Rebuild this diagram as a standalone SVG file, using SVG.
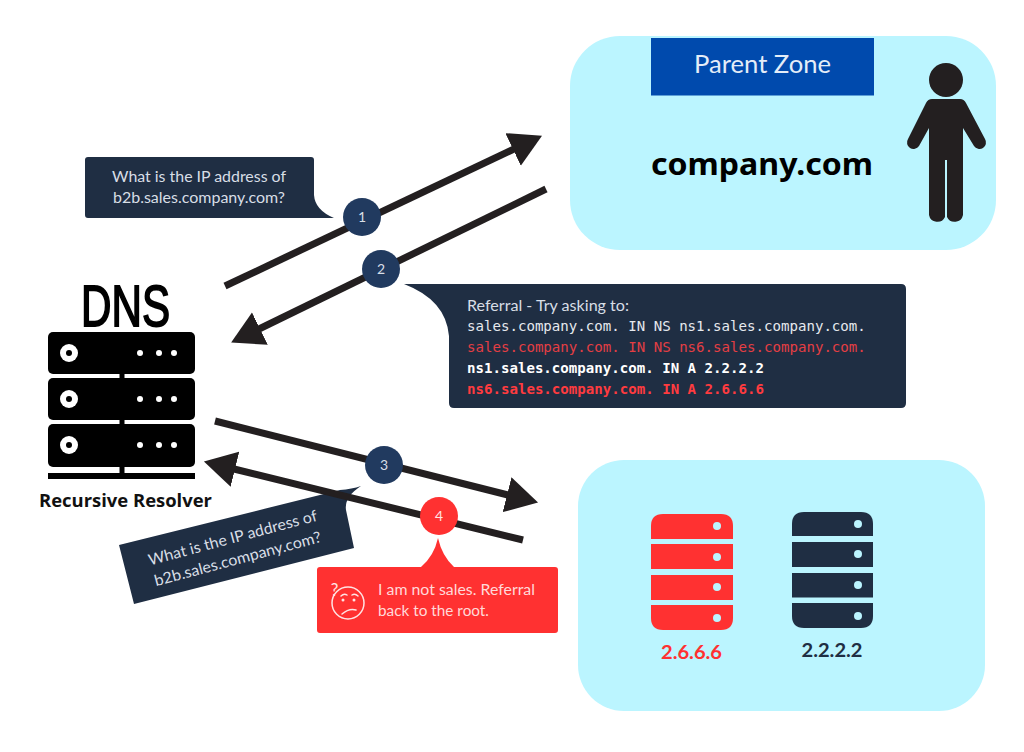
<svg xmlns="http://www.w3.org/2000/svg" width="1024" height="752" viewBox="0 0 1024 752">
<style>
.sans{font-family:"Lato","Noto Sans",sans-serif}
.mono{font-family:"DejaVu Sans Mono","Liberation Mono",monospace;font-size:14.1px}
.msg{font-size:15.5px;fill:#d8dee6}
.navy{fill:#1f2e43}
.red{fill:#ff3131}
.zone{fill:#bbf5ff}
.num{font-family:"Lato",sans-serif;font-size:14px;fill:#d8dee6;text-anchor:middle}
.conn{stroke:#231f20;stroke-width:7;fill:none;marker-end:url(#head)}
.rack{fill:#000}
.hole{fill:#bbf5ff}
.wh{fill:#fff}
.face{fill:none;stroke:#ffe3e3;stroke-width:1.5;stroke-linecap:round}
</style>
<defs>
<marker id="head" markerUnits="userSpaceOnUse" markerWidth="33" markerHeight="38" refX="1" refY="19" orient="auto" viewBox="0 0 33 38">
<path d="M0 1 L32 19 L0 37 Z" fill="#231f20"/>
</marker>
</defs>
<rect width="1024" height="752" fill="#fff"/>

<g id="parent-zone">
<rect class="zone" x="570" y="36" width="426" height="214" rx="50"/>
<rect x="651" y="38" width="223" height="57.500" fill="#004aad"/>
<text class="sans" x="762.500" y="73" font-size="24.500" fill="#e4edf8" text-anchor="middle" textLength="137" lengthAdjust="spacingAndGlyphs">Parent Zone</text>
<text x="651" y="175" font-family="'Noto Sans',sans-serif" font-weight="700" font-size="31" fill="#000" textLength="222" lengthAdjust="spacingAndGlyphs">company.com</text>
</g>

<g id="person" fill="#231f20" stroke="none">
<circle cx="946" cy="80" r="17"/>
<path d="M932 99 H960 Q964 99 966 103 L985 139 A6.500 6.500 0 0 1 974 146 L963 128 V215 A8.500 8.500 0 0 1 947 217 V160 H945 V217 A8.500 8.500 0 0 1 929 215 V128 L919 146 A6.500 6.500 0 0 1 908 139 L926 103 Q928 99 932 99 Z"/>
</g>

<g id="dns-resolver">
<text x="81" y="325.500" font-family="'Liberation Sans',sans-serif" font-size="57" fill="#000" stroke="#000" stroke-width="1.800" textLength="89" lengthAdjust="spacingAndGlyphs">DNS</text>
<rect class="rack" x="119.500" y="370" width="5" height="106"/>
<rect class="rack" x="48" y="332" width="147" height="42" rx="5"/>
<rect class="rack" x="48" y="378" width="147" height="42" rx="5"/>
<rect class="rack" x="48" y="424" width="147" height="43" rx="5"/>
<rect class="rack" x="48" y="473" width="147" height="6"/>
<g id="dns-lights">
<circle class="wh" cx="69" cy="353" r="9"/><circle class="rack" cx="69" cy="353" r="3"/>
<circle class="wh" cx="69" cy="399" r="9"/><circle class="rack" cx="69" cy="399" r="3"/>
<circle class="wh" cx="69" cy="445" r="9"/><circle class="rack" cx="69" cy="445" r="3"/>
<circle class="wh" cx="140" cy="353" r="3"/><circle class="wh" cx="159" cy="353" r="3"/><circle class="wh" cx="174" cy="353" r="3"/>
<circle class="wh" cx="140" cy="399" r="3"/><circle class="wh" cx="159" cy="399" r="3"/><circle class="wh" cx="174" cy="399" r="3"/>
<circle class="wh" cx="140" cy="445" r="3"/><circle class="wh" cx="159" cy="445" r="3"/><circle class="wh" cx="174" cy="445" r="3"/>
</g>
<text x="39" y="507" font-family="'Open Sans',sans-serif" font-weight="700" font-size="17" fill="#111" textLength="173" lengthAdjust="spacingAndGlyphs">Recursive Resolver</text>
</g>

<g id="target-zone">
<rect class="zone" x="578" y="460" width="407" height="251" rx="46"/>
</g>

<g id="server-red">
<path class="red" d="M651 539 V526 Q651 514 663 514 H721 Q733 514 733 526 V539 Z"/>
<rect class="red" x="651" y="544" width="82" height="25"/>
<rect class="red" x="651" y="575" width="82" height="25"/>
<path class="red" d="M651 605 H733 V618 Q733 630 721 630 H663 Q651 630 651 618 Z"/>
<circle class="hole" cx="717" cy="526" r="4"/><circle class="hole" cx="717" cy="557" r="4"/><circle class="hole" cx="717" cy="587" r="4"/><circle class="hole" cx="717" cy="618" r="4"/>
<text class="sans" x="691.500" y="659" font-size="19.500" font-weight="700" fill="#ff3131" text-anchor="middle" textLength="61" lengthAdjust="spacingAndGlyphs">2.6.6.6</text>
</g>

<g id="server-navy">
<path class="navy" d="M792 536 V524 Q792 512 804 512 H861 Q873 512 873 524 V536 Z"/>
<rect class="navy" x="792" y="542" width="81" height="25"/>
<rect class="navy" x="792" y="573" width="81" height="24.500"/>
<path class="navy" d="M792 603 H873 V616 Q873 628 861 628 H804 Q792 628 792 616 Z"/>
<circle class="hole" cx="858" cy="524" r="4"/><circle class="hole" cx="858" cy="554" r="4"/><circle class="hole" cx="858" cy="585" r="4"/><circle class="hole" cx="858" cy="616" r="4"/>
<text class="sans" x="832" y="657" font-size="19.500" font-weight="700" fill="#1f2e43" text-anchor="middle" textLength="61" lengthAdjust="spacingAndGlyphs">2.2.2.2</text>
</g>

<g id="callout-1">
<path class="navy" d="M88 157 H311 Q314 157 314 160 V195 Q315 210 334 218 H88 Q85 218 85 215 V160 Q85 157 88 157 Z"/>
<text class="sans msg" x="199" y="182" text-anchor="middle" textLength="174" lengthAdjust="spacingAndGlyphs">What is the IP address of</text>
<text class="sans msg" x="199" y="203" text-anchor="middle" textLength="172" lengthAdjust="spacingAndGlyphs">b2b.sales.company.com?</text>
</g>

<g id="callout-2">
<path class="navy" d="M404 284 H901 Q906 284 906 289 V403 Q906 408 901 408 H454 Q449 408 449 403 V336 Q446 300 404 284 Z"/>
<text class="sans" x="467" y="311" font-size="15.500" fill="#d8dee6" textLength="162" lengthAdjust="spacingAndGlyphs">Referral - Try asking to:</text>
<text class="mono" x="467" y="331" fill="#e6e9ee">sales.company.com. IN NS ns1.sales.company.com.</text>
<text class="mono" x="467" y="352" fill="#e53e43">sales.company.com. IN NS ns6.sales.company.com.</text>
<text class="mono" x="467" y="373" fill="#fff" font-weight="700">ns1.sales.company.com. IN A 2.2.2.2</text>
<text class="mono" x="467" y="394" fill="#ff3b3f" font-weight="700">ns6.sales.company.com. IN A 2.6.6.6</text>
</g>

<g id="callout-3">
<path class="navy" d="M119 545 L340 490 Q352 489 361 486 Q344 497 346 510 L354 548 L134 604 Z"/>
<text class="sans msg" transform="translate(234 543) rotate(-15)" text-anchor="middle" textLength="174" lengthAdjust="spacingAndGlyphs">What is the IP address of</text>
<text class="sans msg" transform="translate(239 564) rotate(-15)" text-anchor="middle" textLength="172" lengthAdjust="spacingAndGlyphs">b2b.sales.company.com?</text>
</g>

<g id="callout-4">
<path class="red" d="M438 538 Q442 556 454 567 H555 Q558 567 558 570 V630 Q558 633 555 633 H320 Q317 633 317 630 V570 Q317 567 320 567 H421 Q434 556 438 538 Z"/>
<g id="confused-face">
<circle class="face" cx="348" cy="603" r="16"/>
<path class="face" d="M341 596 Q344 593 347 595 M352 595 Q355 593 358 596 M342 614 Q349 608 356 610"/>
<circle cx="343" cy="600" r="1.500" fill="#ffe3e3"/><circle cx="354" cy="600" r="1.500" fill="#ffe3e3"/>
<text class="sans" x="334.500" y="596" font-size="17" fill="#ffe3e3" text-anchor="middle">?</text>
</g>
<text class="sans" x="378" y="595" font-size="15.500" fill="#ffd9d9" textLength="157" lengthAdjust="spacingAndGlyphs">I am not sales. Referral</text>
<text class="sans" x="378" y="616" font-size="15.500" fill="#ffd9d9" textLength="111" lengthAdjust="spacingAndGlyphs">back to the root.</text>
</g>

<g id="connectors">
<path class="conn" d="M225 286 L514 149"/>
<path class="conn" d="M546 189 L259 329"/>
<path class="conn" d="M215 421 L508 495"/>
<path class="conn" d="M523 540 L234 469"/>
</g>

<g id="step-1"><circle cx="362" cy="217" r="19" fill="#213a5f"/><text class="num" x="362" y="222">1</text></g>
<g id="step-2"><circle cx="381" cy="269" r="19" fill="#213a5f"/><text class="num" x="381" y="274">2</text></g>
<g id="step-3"><circle cx="384" cy="465" r="19" fill="#213a5f"/><text class="num" x="384" y="470">3</text></g>
<g id="step-4"><circle cx="439" cy="516" r="19" fill="#ff3131"/><text class="num" x="439" y="521" style="fill:#ffe3e3">4</text></g>
</svg>
